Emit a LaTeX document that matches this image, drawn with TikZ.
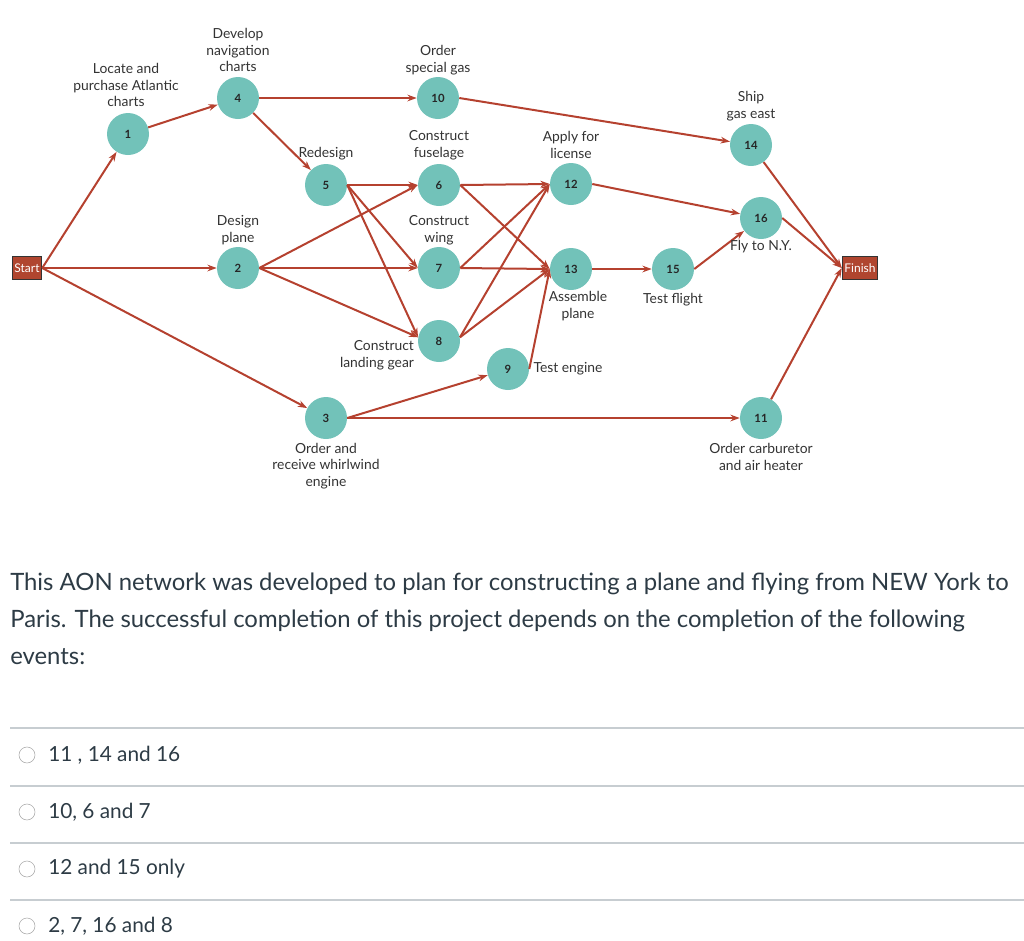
\documentclass[tikz,border=0pt]{standalone}
\usepackage{fontspec}
\setmainfont{Lato}
\usetikzlibrary{arrows.meta}
\definecolor{teal1}{HTML}{72C2B9}
\definecolor{edge}{HTML}{B5412F}
\definecolor{boxc}{HTML}{B0452F}
\definecolor{txt}{HTML}{2D3B45}
\definecolor{sep}{HTML}{C7CDD1}
\begin{document}
\begin{tikzpicture}[x=0.75pt,y=-0.75pt,
  act/.style={circle,fill=teal1,minimum size=31.5pt,inner sep=0pt,font=\fontsize{8.5}{9}\selectfont\bfseries,text=black!85},
  term/.style={rectangle,fill=boxc,draw=black!80,line width=1pt,text=white,font=\fontsize{9}{9}\selectfont,minimum height=17pt,inner sep=1.5pt},
  lab/.style={align=center,font=\fontsize{10.4}{12.6}\selectfont,text=black!80},
  e/.style={draw=edge,line width=1.5pt,-{Stealth[length=7pt,width=5pt]}},
  q/.style={font=\fontsize{17.9}{20}\selectfont,text=txt,anchor=base west,inner sep=0pt},
  opt/.style={font=\fontsize{15.6}{18}\selectfont,text=txt,anchor=west,inner sep=0pt},
  radio/.style={circle,draw=gray!70,fill=white,minimum size=12pt,inner sep=0pt}]
\useasboundingbox (0,0) rectangle (1024,940);
\node[term] (S) at (27,268) {Start};
\node[term] (F) at (860,268) {Finish};
\foreach \n/\x/\y in {1/128/134,4/238/98,10/438/98,5/326/185,6/439/185,2/238/268,7/439/268,8/439/341,3/326/418,9/508/369,12/571/184,13/571/269,15/673/269,16/761/218,14/751/145,11/761/418}
  \node[act] (n\n) at (\x,\y) {\n};
\foreach \a/\b in {S.east/n1,S.east/n2.west,S.east/n3,n1/n4,n4.east/n10.west,n4/n5,n5.east/n6.west,n5.east/n7.west,n5.east/n8.170,n2.east/n6.west,n2.east/n7.west,n2.east/n8.170,n10.east/n14,n6.east/n12.west,n6.east/n13.west,n7.east/n12.west,n7.east/n13.west,n8.10/n12.west,n8.10/n13.west,n3.east/n9,n3.east/n11.west,n9.east/n13.west,n12.east/n16,n13.east/n15.west,n15.east/n16,n14/F.west,n16.east/F.west,n11/F.west}
  \draw[e] (\a) -- (\b);
\node[lab] (l4) at (238,50) {Develop\\navigation\\charts};
\node[lab] (l1) at (126,85) {Locate and\\purchase Atlantic\\charts};
\node[lab] (l10) at (438,60) {Order\\special gas};
\node[lab] (l14) at (751,106) {Ship\\gas east};
\node[lab] (l6) at (439,145) {Construct\\fuselage};
\node[lab] (l12) at (571,145) {Apply for\\license};
\node[lab] (l5) at (326,154) {Redesign};
\node[lab] (l2) at (238,230) {Design\\plane};
\node[lab] (l7) at (439,230) {Construct\\wing};
\node[lab] (l16) at (761,247) {Fly to N.Y.};
\node[lab] (l13) at (578,306) {Assemble\\plane};
\node[lab] (l15) at (673,300) {Test flight};
\node[lab,align=right] (l8) at (377,355) {Construct\\landing gear};
\node[lab] (l9) at (568,369) {Test engine};
\node[lab] (l3) at (326,466) {Order and\\receive whirlwind\\engine};
\node[lab] (l11) at (761,457) {Order carburetor\\and air heater};
\node[q] (t1) at (10,590) {This AON network was developed to plan for constructing a plane and flying from NEW York to};
\node[q] (t2) at (10,627) {Paris. The successful completion of this project depends on the completion of the following};
\node[q] (t3) at (10,664) {events:};
\foreach \yy in {728,786,843,900} \draw[sep,line width=0.8pt] (10,\yy) -- (1024,\yy);
\foreach \i/\yy/\t in {a/755/{11 , 14 and 16},b/812/{10, 6 and 7},c/869/{12 and 15 only},d/926/{2, 7, 16 and 8}}{
  \node[radio] (r\i) at (27,\yy) {};
  \node[opt] (o\i) at (48,\yy) {\t};
}
\end{tikzpicture}
\end{document}
